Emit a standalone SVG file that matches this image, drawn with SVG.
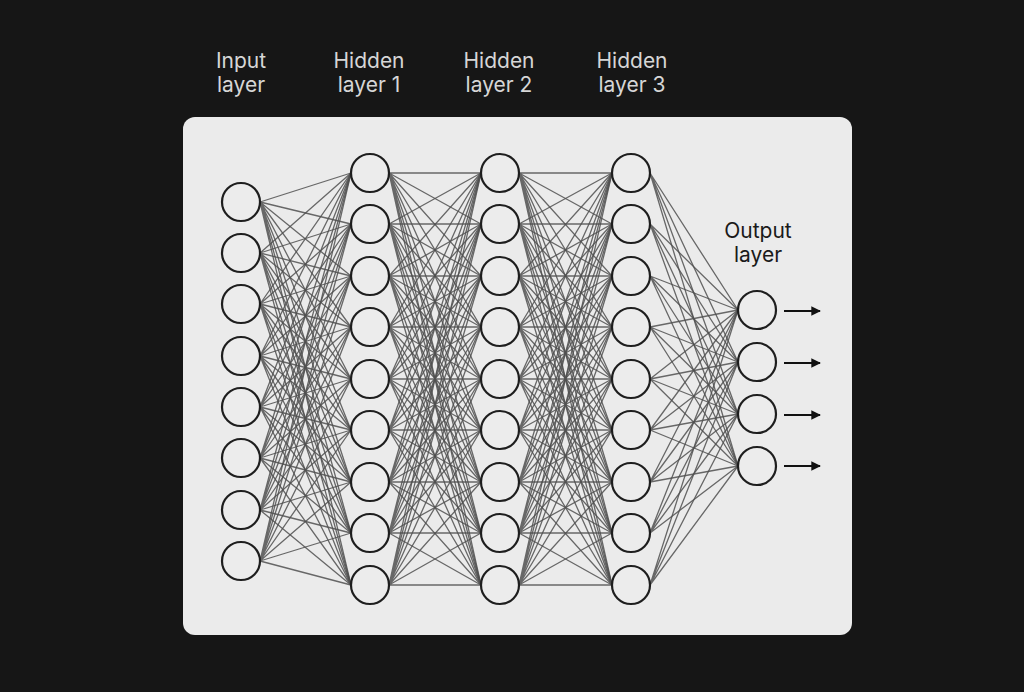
<svg xmlns="http://www.w3.org/2000/svg" width="1024" height="692" viewBox="0 0 1024 692">
<defs>
<style>
.lbl{font-family:Inter,"Open Sans","Liberation Sans",sans-serif;font-size:21px;fill:#d6d6d6;text-anchor:middle}
.lbl2{font-family:Inter,"Open Sans","Liberation Sans",sans-serif;font-size:21px;fill:#1a1a1a;text-anchor:middle}
.node{fill:#ececec;stroke:#1e1e1e;stroke-width:2.2}
.conn{fill:none;stroke:#505050;stroke-width:1.3;stroke-opacity:0.85}
.arr{stroke:#111;stroke-width:2.2}
</style>
<marker id="ah" viewBox="0 0 10 10" refX="9" refY="5" markerWidth="5" markerHeight="4.4" markerUnits="strokeWidth" orient="auto">
<path d="M0 0L10 5L0 10Z" fill="#111"/>
</marker>
</defs>
<rect width="1024" height="692" fill="#161616"/>
<rect x="183" y="117" width="669" height="518" rx="12" fill="#ebebeb"/>
<g id="labels">
<text class="lbl" x="241" y="68">Input</text><text class="lbl" x="241" y="92">layer</text>
<text class="lbl" x="369" y="68">Hidden</text><text class="lbl" x="369" y="92">layer 1</text>
<text class="lbl" x="499" y="68">Hidden</text><text class="lbl" x="499" y="92">layer 2</text>
<text class="lbl" x="632" y="68">Hidden</text><text class="lbl" x="632" y="92">layer 3</text>
<text class="lbl2" x="758" y="238">Output</text><text class="lbl2" x="758" y="262">layer</text>
</g>
<g id="connectors">
<path class="conn" d="M260 202L351 173M260 202L351 224M260 202L351 276M260 202L351 327M260 202L351 379M260 202L351 430M260 202L351 482M260 202L351 533M260 202L351 585"/>
<path class="conn" d="M260 253L351 173M260 253L351 224M260 253L351 276M260 253L351 327M260 253L351 379M260 253L351 430M260 253L351 482M260 253L351 533M260 253L351 585"/>
<path class="conn" d="M260 304L351 173M260 304L351 224M260 304L351 276M260 304L351 327M260 304L351 379M260 304L351 430M260 304L351 482M260 304L351 533M260 304L351 585"/>
<path class="conn" d="M260 356L351 173M260 356L351 224M260 356L351 276M260 356L351 327M260 356L351 379M260 356L351 430M260 356L351 482M260 356L351 533M260 356L351 585"/>
<path class="conn" d="M260 407L351 173M260 407L351 224M260 407L351 276M260 407L351 327M260 407L351 379M260 407L351 430M260 407L351 482M260 407L351 533M260 407L351 585"/>
<path class="conn" d="M260 458L351 173M260 458L351 224M260 458L351 276M260 458L351 327M260 458L351 379M260 458L351 430M260 458L351 482M260 458L351 533M260 458L351 585"/>
<path class="conn" d="M260 510L351 173M260 510L351 224M260 510L351 276M260 510L351 327M260 510L351 379M260 510L351 430M260 510L351 482M260 510L351 533M260 510L351 585"/>
<path class="conn" d="M260 561L351 173M260 561L351 224M260 561L351 276M260 561L351 327M260 561L351 379M260 561L351 430M260 561L351 482M260 561L351 533M260 561L351 585"/>

<path class="conn" d="M389 173L481 173M389 173L481 224M389 173L481 276M389 173L481 327M389 173L481 379M389 173L481 430M389 173L481 482M389 173L481 533M389 173L481 585"/>
<path class="conn" d="M389 224L481 173M389 224L481 224M389 224L481 276M389 224L481 327M389 224L481 379M389 224L481 430M389 224L481 482M389 224L481 533M389 224L481 585"/>
<path class="conn" d="M389 276L481 173M389 276L481 224M389 276L481 276M389 276L481 327M389 276L481 379M389 276L481 430M389 276L481 482M389 276L481 533M389 276L481 585"/>
<path class="conn" d="M389 327L481 173M389 327L481 224M389 327L481 276M389 327L481 327M389 327L481 379M389 327L481 430M389 327L481 482M389 327L481 533M389 327L481 585"/>
<path class="conn" d="M389 379L481 173M389 379L481 224M389 379L481 276M389 379L481 327M389 379L481 379M389 379L481 430M389 379L481 482M389 379L481 533M389 379L481 585"/>
<path class="conn" d="M389 430L481 173M389 430L481 224M389 430L481 276M389 430L481 327M389 430L481 379M389 430L481 430M389 430L481 482M389 430L481 533M389 430L481 585"/>
<path class="conn" d="M389 482L481 173M389 482L481 224M389 482L481 276M389 482L481 327M389 482L481 379M389 482L481 430M389 482L481 482M389 482L481 533M389 482L481 585"/>
<path class="conn" d="M389 533L481 173M389 533L481 224M389 533L481 276M389 533L481 327M389 533L481 379M389 533L481 430M389 533L481 482M389 533L481 533M389 533L481 585"/>
<path class="conn" d="M389 585L481 173M389 585L481 224M389 585L481 276M389 585L481 327M389 585L481 379M389 585L481 430M389 585L481 482M389 585L481 533M389 585L481 585"/>

<path class="conn" d="M519 173L612 173M519 173L612 224M519 173L612 276M519 173L612 327M519 173L612 379M519 173L612 430M519 173L612 482M519 173L612 533M519 173L612 585"/>
<path class="conn" d="M519 224L612 173M519 224L612 224M519 224L612 276M519 224L612 327M519 224L612 379M519 224L612 430M519 224L612 482M519 224L612 533M519 224L612 585"/>
<path class="conn" d="M519 276L612 173M519 276L612 224M519 276L612 276M519 276L612 327M519 276L612 379M519 276L612 430M519 276L612 482M519 276L612 533M519 276L612 585"/>
<path class="conn" d="M519 327L612 173M519 327L612 224M519 327L612 276M519 327L612 327M519 327L612 379M519 327L612 430M519 327L612 482M519 327L612 533M519 327L612 585"/>
<path class="conn" d="M519 379L612 173M519 379L612 224M519 379L612 276M519 379L612 327M519 379L612 379M519 379L612 430M519 379L612 482M519 379L612 533M519 379L612 585"/>
<path class="conn" d="M519 430L612 173M519 430L612 224M519 430L612 276M519 430L612 327M519 430L612 379M519 430L612 430M519 430L612 482M519 430L612 533M519 430L612 585"/>
<path class="conn" d="M519 482L612 173M519 482L612 224M519 482L612 276M519 482L612 327M519 482L612 379M519 482L612 430M519 482L612 482M519 482L612 533M519 482L612 585"/>
<path class="conn" d="M519 533L612 173M519 533L612 224M519 533L612 276M519 533L612 327M519 533L612 379M519 533L612 430M519 533L612 482M519 533L612 533M519 533L612 585"/>
<path class="conn" d="M519 585L612 173M519 585L612 224M519 585L612 276M519 585L612 327M519 585L612 379M519 585L612 430M519 585L612 482M519 585L612 533M519 585L612 585"/>

<path class="conn" d="M650 173L738 310M650 173L738 362M650 173L738 414M650 173L738 466"/>
<path class="conn" d="M650 224L738 310M650 224L738 362M650 224L738 414M650 224L738 466"/>
<path class="conn" d="M650 276L738 310M650 276L738 362M650 276L738 414M650 276L738 466"/>
<path class="conn" d="M650 327L738 310M650 327L738 362M650 327L738 414M650 327L738 466"/>
<path class="conn" d="M650 379L738 310M650 379L738 362M650 379L738 414M650 379L738 466"/>
<path class="conn" d="M650 430L738 310M650 430L738 362M650 430L738 414M650 430L738 466"/>
<path class="conn" d="M650 482L738 310M650 482L738 362M650 482L738 414M650 482L738 466"/>
<path class="conn" d="M650 533L738 310M650 533L738 362M650 533L738 414M650 533L738 466"/>
<path class="conn" d="M650 585L738 310M650 585L738 362M650 585L738 414M650 585L738 466"/>

<line class="arr" x1="784" y1="311" x2="820" y2="311" marker-end="url(#ah)"/>
<line class="arr" x1="784" y1="363" x2="820" y2="363" marker-end="url(#ah)"/>
<line class="arr" x1="784" y1="415" x2="820" y2="415" marker-end="url(#ah)"/>
<line class="arr" x1="784" y1="466" x2="820" y2="466" marker-end="url(#ah)"/>
</g>
<g id="input-layer">
<circle class="node" cx="241" cy="202" r="19"/><circle class="node" cx="241" cy="253" r="19"/>
<circle class="node" cx="241" cy="304" r="19"/><circle class="node" cx="241" cy="356" r="19"/>
<circle class="node" cx="241" cy="407" r="19"/><circle class="node" cx="241" cy="458" r="19"/>
<circle class="node" cx="241" cy="510" r="19"/><circle class="node" cx="241" cy="561" r="19"/>
</g>
<g id="hidden-layer-1">
<circle class="node" cx="370" cy="173" r="19"/><circle class="node" cx="370" cy="224" r="19"/>
<circle class="node" cx="370" cy="276" r="19"/><circle class="node" cx="370" cy="327" r="19"/>
<circle class="node" cx="370" cy="379" r="19"/><circle class="node" cx="370" cy="430" r="19"/>
<circle class="node" cx="370" cy="482" r="19"/><circle class="node" cx="370" cy="533" r="19"/>
<circle class="node" cx="370" cy="585" r="19"/>
</g>
<g id="hidden-layer-2">
<circle class="node" cx="500" cy="173" r="19"/><circle class="node" cx="500" cy="224" r="19"/>
<circle class="node" cx="500" cy="276" r="19"/><circle class="node" cx="500" cy="327" r="19"/>
<circle class="node" cx="500" cy="379" r="19"/><circle class="node" cx="500" cy="430" r="19"/>
<circle class="node" cx="500" cy="482" r="19"/><circle class="node" cx="500" cy="533" r="19"/>
<circle class="node" cx="500" cy="585" r="19"/>
</g>
<g id="hidden-layer-3">
<circle class="node" cx="631" cy="173" r="19"/><circle class="node" cx="631" cy="224" r="19"/>
<circle class="node" cx="631" cy="276" r="19"/><circle class="node" cx="631" cy="327" r="19"/>
<circle class="node" cx="631" cy="379" r="19"/><circle class="node" cx="631" cy="430" r="19"/>
<circle class="node" cx="631" cy="482" r="19"/><circle class="node" cx="631" cy="533" r="19"/>
<circle class="node" cx="631" cy="585" r="19"/>
</g>
<g id="output-layer">
<circle class="node" cx="757" cy="310" r="19"/><circle class="node" cx="757" cy="362" r="19"/>
<circle class="node" cx="757" cy="414" r="19"/><circle class="node" cx="757" cy="466" r="19"/>
</g>
</svg>
